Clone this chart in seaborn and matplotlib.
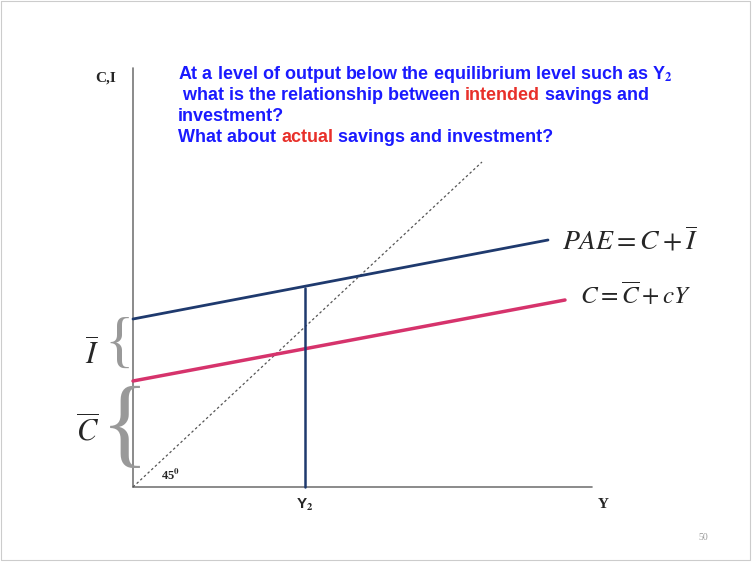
import matplotlib
matplotlib.use("Agg")
import matplotlib.pyplot as plt
import seaborn as sns
import pandas as pd

# chart coordinates (pixel-like units of the slide, y grows downwards)
pae_x = [133, 548]
pae_y = [319, 240]
cons_x = [133, 565]
cons_y = [381, 300]
diag_x = [133, 482]
diag_y = [487, 162]
y2_x = [305, 305]
y2_y = [487, 288]

sns.set_theme(style="white")
plt.rcParams["font.family"] = ["Liberation Sans", "DejaVu Sans"]
plt.rcParams["mathtext.fontset"] = "stix"

fig = plt.figure(figsize=(7.52, 5.62), dpi=100)
ax = fig.add_axes([0, 0, 1, 1])
ax.set_xlim(0, 752)
ax.set_ylim(562, 0)
ax.axis("off")

# slide frame
ax.plot([1, 750, 750, 1, 1], [1, 1, 560, 560, 1], color="#cccccc", lw=0.8)

# axes of the diagram
ax.plot([133, 133], [487, 68], color="#777777", lw=1.2)
ax.plot([133, 592], [487, 487], color="#777777", lw=1.2)

kw = dict(ax=ax, sort=False, estimator=None)
sns.lineplot(x=diag_x, y=diag_y, color="#555555", lw=0.9, linestyle=(0, (2, 2)), **kw)
sns.lineplot(x=pae_x, y=pae_y, color="#1f3a6e", lw=2, **kw)
sns.lineplot(x=cons_x, y=cons_y, color="#d6336c", lw=2.5, **kw)
sns.lineplot(x=y2_x, y=y2_y, color="#1f3a6e", lw=1.8, **kw)

ax.text(106, 78, "C,I", fontsize=11, fontweight="bold", family="Liberation Serif", ha="center", va="center")
ax.text(305, 505, "Y$_\\mathbf{2}$", fontsize=11, fontweight="bold", ha="center", va="center")
ax.text(603, 505, "Y", fontsize=11, fontweight="bold", family="Liberation Serif", ha="center", va="center")
ax.text(170, 475, "45$^\\mathbf{0}$", fontsize=9, fontweight="bold", family="Liberation Serif", ha="center", va="center")
ax.text(703, 537, "50", fontsize=7, color="#999999", family="Liberation Serif", ha="center", va="center")

ax.text(562, 241, r"$PAE = C + \overline{I}$", fontsize=20, ha="left", va="center")
ax.text(580, 295, r"$C = \overline{C} + cY$", fontsize=18, ha="left", va="center")
ax.text(92, 355, r"$\overline{I}$", fontsize=22, ha="center", va="center")
ax.text(88, 432, r"$\overline{C}$", fontsize=22, ha="center", va="center")
ax.text(119, 346, "{", fontsize=44, color="#999999", family="Liberation Serif", ha="center", va="center")
ax.text(125, 431, "{", fontsize=72, color="#999999", family="Liberation Serif", ha="center", va="center")

blue = "#1a1aff"
red = "#e8302a"
lines = [
    [("At a level of output below the equilibrium level such as Y$_\\mathbf{2}$", blue)],
    [(" what is the relationship between ", blue), ("intended", red), (" savings and", blue)],
    [("investment?", blue)],
    [("What about ", blue), ("actual", red), (" savings and investment?", blue)],
]
for i, parts in enumerate(lines):
    t = ax.text(178, 79 + i * 21, parts[0][0], color=parts[0][1], fontsize=13,
                fontweight="bold", va="baseline")
    for txt, col in parts[1:]:
        t = ax.annotate(txt, xy=(1, 0), xycoords=t, color=col, fontsize=13,
                        fontweight="bold", va="bottom")

fig.savefig("out.png", dpi=100)
